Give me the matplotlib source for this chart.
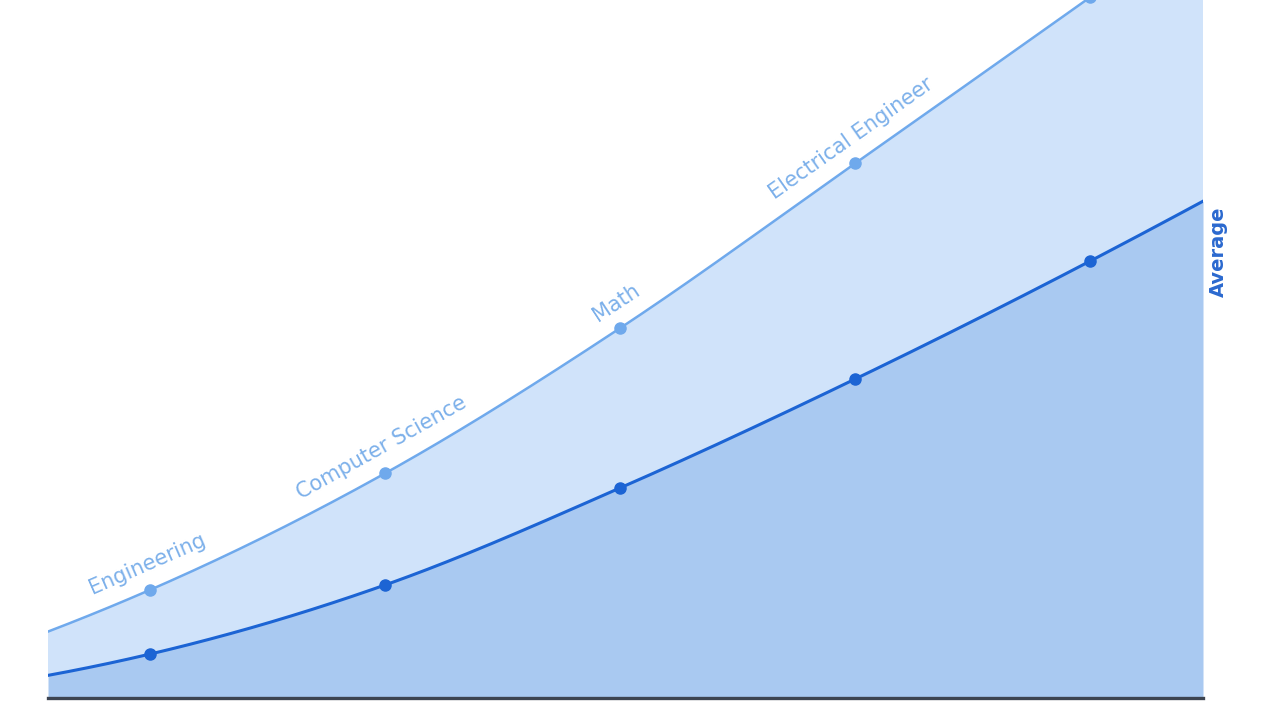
import numpy as np
import matplotlib
matplotlib.use("Agg")
import matplotlib.pyplot as plt

# data (stacked: base series + second series on top)
fields = ["Engineering", "Computer Science", "Math", "Electrical Engineer", "Physics"]
base = [6.3, 16.2, 30.1, 45.7, 62.6]
extra = [9.2, 16.0, 22.9, 30.9, 37.8]
series_names = ["Average", "Advanced"]

x = np.arange(len(fields))
total = np.array(base) + np.array(extra)


def smooth(xp, yp, xs):
    # cubic hermite between points, quadratic run-out past both ends
    yp = np.asarray(yp, dtype=float)
    m = np.gradient(yp, xp, edge_order=2)
    out = np.empty_like(xs)
    for k, t in enumerate(xs):
        if t <= xp[0]:
            c = np.polyfit(xp[:3], yp[:3], 2)
            out[k] = np.polyval(c, t)
        elif t >= xp[-1]:
            c = np.polyfit(xp[-3:], yp[-3:], 2)
            out[k] = np.polyval(c, t)
        else:
            i = min(int(np.floor(t - xp[0])), len(xp) - 2)
            h = xp[i + 1] - xp[i]
            s = (t - xp[i]) / h
            h00 = 2 * s**3 - 3 * s**2 + 1
            h10 = s**3 - 2 * s**2 + s
            h01 = -2 * s**3 + 3 * s**2
            h11 = s**3 - s**2
            out[k] = h00 * yp[i] + h10 * h * m[i] + h01 * yp[i + 1] + h11 * h * m[i + 1]
    return out


xs = np.linspace(-0.435, 4.48, 400)
base_curve = smooth(x, base, xs)
total_curve = smooth(x, total, xs)

dark = "#1c64d4"
light = "#6fa9ec"

fig = plt.figure(figsize=(12.8, 7.2), dpi=100)
ax = fig.add_axes([48 / 1280, 22 / 720, 1155 / 1280, 698 / 720])
ax.set_xlim(xs[0], xs[-1])
ax.set_ylim(0, 100)

ax.fill_between(xs, 0, base_curve, color="#a9c9f1", lw=0)
ax.fill_between(xs, base_curve, total_curve, color="#d0e3fa", lw=0)
ax.plot(xs, total_curve, color=light, lw=1.8)
ax.plot(xs, base_curve, color=dark, lw=2.2)
ax.plot(x, total, "o", color=light, ms=8)
ax.plot(x, base, "o", color=dark, ms=8)

for s in ["top", "right", "left"]:
    ax.spines[s].set_visible(False)
ax.spines["bottom"].set_color("#3d4451")
ax.spines["bottom"].set_linewidth(2.4)
ax.set_xticks([])
ax.set_yticks([])

# labels along the upper line, rotated with its slope
for i, name in enumerate(fields[:4]):
    yy = smooth(x, total, np.array([x[i] - 0.05, x[i] + 0.05]))
    p0 = ax.transData.transform((x[i] - 0.05, yy[0]))
    p1 = ax.transData.transform((x[i] + 0.05, yy[1]))
    ang = np.degrees(np.arctan2(p1[1] - p0[1], p1[0] - p0[0]))
    ax.annotate(name, (x[i], total[i]), xytext=(1, 12), textcoords="offset points",
                rotation=ang, rotation_mode="anchor", ha="center", va="bottom",
                color="#7cb0ea", fontsize=15)

# series names at the right edge
ax.text(1.013, 0.64, series_names[0], transform=ax.transAxes, rotation=90,
        ha="center", va="center", color="#2b69cf", fontsize=14, fontweight="bold",
        clip_on=False)
ax.text(1.013, 1.04, series_names[1], transform=ax.transAxes, rotation=90,
        ha="center", va="bottom", color="#7cb0ea", fontsize=14, fontweight="bold",
        clip_on=False)

fig.savefig("out.png", dpi=100)
